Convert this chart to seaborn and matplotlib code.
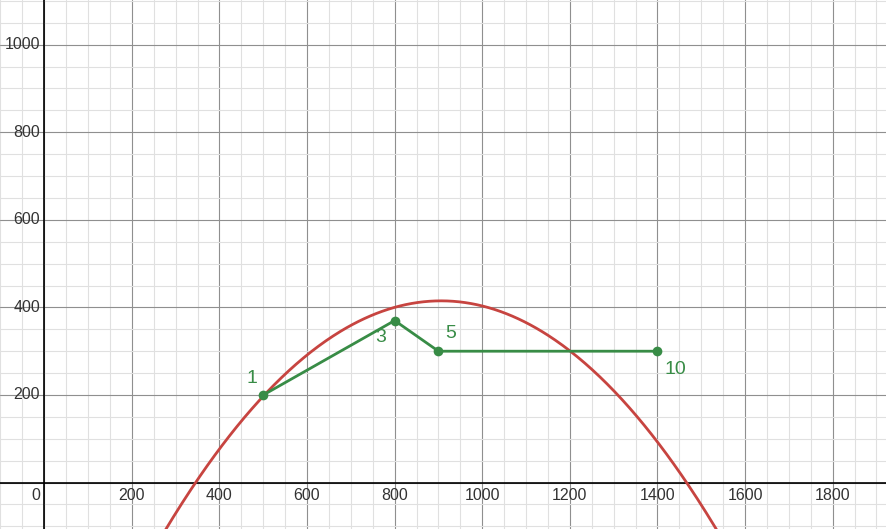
import numpy as np
import pandas as pd
import matplotlib
matplotlib.use("Agg")
import matplotlib.pyplot as plt
import seaborn as sns

# --- data ---
point_x = [500, 800, 900, 1400]
point_y = [200, 370, 300, 300]
point_labels = ["1", "3", "5", "10"]

# parabola y = k - a * (x - h)^2 (vertex and width)
curve_h = 906
curve_k = 415
curve_a = 0.001321

x_ticks = [200, 400, 600, 800, 1000, 1200, 1400, 1600, 1800]
y_ticks = [200, 400, 600, 800, 1000]

RED = "#c74440"
GREEN = "#388c46"

sns.set_style("white")
plt.rcParams["font.family"] = ["Liberation Sans", "DejaVu Sans"]

fig = plt.figure(figsize=(8.87, 5.29), dpi=100)
ax = fig.add_axes([0, 0, 1, 1])

xmin, xmax = -101, 1924
ymin, ymax = -106, 1102

# grid: minor every 50, major every 200
for v in np.arange(-100, 1950, 50):
    major = v % 200 == 0
    ax.axvline(v, color="#8f8f8f" if major else "#e0e0e0", lw=0.8, zorder=0)
for v in np.arange(-100, 1150, 50):
    major = v % 200 == 0
    ax.axhline(v, color="#8f8f8f" if major else "#e0e0e0", lw=0.8, zorder=0)
ax.axhline(0, color="black", lw=1.2, zorder=1)
ax.axvline(0, color="black", lw=1.2, zorder=1)

# red parabola
cx = np.linspace(xmin, xmax, 600)
curve = pd.DataFrame({"x": cx, "y": curve_k - curve_a * (cx - curve_h) ** 2})
sns.lineplot(data=curve, x="x", y="y", color=RED, lw=2.0, ax=ax, zorder=3)

# green polyline with points
pts = pd.DataFrame({"x": point_x, "y": point_y})
sns.lineplot(data=pts, x="x", y="y", color=GREEN, lw=2.0, sort=False,
             marker="o", markersize=7, markeredgewidth=0, ax=ax, zorder=4)

offsets = [(-8, 12), (-10, -12), (9, 13), (13, -13)]
for x, y, lab, off in zip(point_x, point_y, point_labels, offsets):
    ax.annotate(lab, (x, y), xytext=off, textcoords="offset points",
                ha="center", va="center", fontsize=14, color=GREEN)

# tick labels drawn in data space like the grapher does
for v in x_ticks:
    ax.annotate(str(v), (v, 0), xytext=(0, -9), textcoords="offset points",
                ha="center", va="center", fontsize=11.5, color="#333333")
for v in y_ticks:
    ax.annotate(str(v), (0, v), xytext=(-3, 0), textcoords="offset points",
                ha="right", va="center", fontsize=11.5, color="#333333")
ax.annotate("0", (0, 0), xytext=(-6, -9), textcoords="offset points",
            ha="center", va="center", fontsize=11.5, color="#333333")

ax.set_xlim(xmin, xmax)
ax.set_ylim(ymin, ymax)
ax.set_xticks([])
ax.set_yticks([])
ax.set_xlabel("")
ax.set_ylabel("")
for s in ax.spines.values():
    s.set_visible(False)

fig.savefig("out.png", dpi=100)
